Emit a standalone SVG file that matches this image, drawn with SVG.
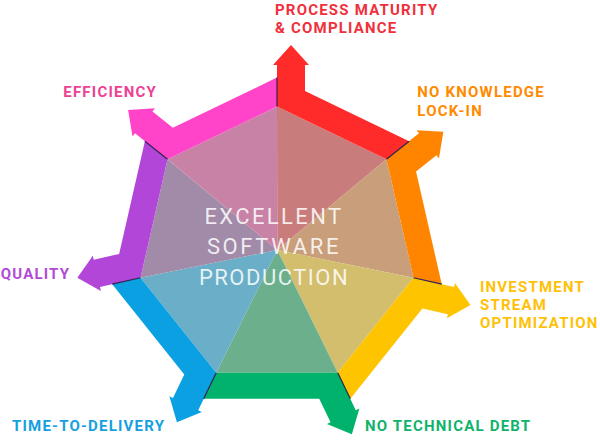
<svg xmlns="http://www.w3.org/2000/svg" width="600" height="443" viewBox="0 0 600 443">
  <defs>
    <style>
      .lbl { font-family: Roboto, "Liberation Sans", sans-serif; font-weight: 700; font-size: 15px; letter-spacing: 1.2px; }
      .center { font-family: Roboto, "Liberation Sans", sans-serif; font-weight: 400; font-size: 22px; letter-spacing: 1.5px; fill: #ffffff; fill-opacity: 0.85; text-anchor: middle; }
      .sep { stroke: #2d2350; stroke-width: 1.2; }
    </style>
    <path id="band" d="M277,106.6 L386.45,159.31 L409.12,141.23 L305,91.08 L305,65 L309,65 L291,45 L273,65 L277,65 Z"/>
  </defs>
  <rect width="600" height="443" fill="#ffffff"/>

  <g id="inner">
    <polygon points="277.3,250 277,106.6 386.45,159.31" fill="#c97c7c"/>
    <polygon points="277.3,250 386.45,159.31 413.49,277.75" fill="#c99e7a"/>
    <polygon points="277.3,250 413.49,277.75 337.75,372.74" fill="#d3be6d"/>
    <polygon points="277.3,250 337.75,372.74 216.25,372.74" fill="#6caf8d"/>
    <polygon points="277.3,250 216.25,372.74 140.51,277.75" fill="#6aaec8"/>
    <polygon points="277.3,250 140.51,277.75 167.55,159.31" fill="#a28ba9"/>
    <polygon points="277.3,250 167.55,159.31 277,106.6" fill="#c882a6"/>
  </g>

  <g id="node-process-maturity">
    <use href="#band" fill="#ff2b2b"/>
    <text class="lbl" fill="#f0303c"><tspan x="275" y="15">PROCESS MATURITY</tspan><tspan x="275" y="33.3">&amp; COMPLIANCE</tspan></text>
  </g>
  <g id="node-no-knowledge-lock-in">
    <use href="#band" fill="#ff8500" transform="rotate(51.4286 277 246.6)"/>
    <text class="lbl" fill="#ff8a00"><tspan x="417.3" y="97.3">NO KNOWLEDGE</tspan><tspan x="417.3" y="115.7">LOCK-IN</tspan></text>
  </g>
  <g id="node-investment-stream">
    <use href="#band" fill="#ffc400" transform="rotate(102.8571 277 246.6)"/>
    <text class="lbl" fill="#ffc107"><tspan x="480" y="291.7">INVESTMENT</tspan><tspan x="480" y="310">STREAM</tspan><tspan x="480" y="328.3">OPTIMIZATION</tspan></text>
  </g>
  <g id="node-no-technical-debt">
    <use href="#band" fill="#00b26b" transform="rotate(154.2857 277 246.6)"/>
    <text class="lbl" fill="#10b36c" x="365" y="431.3">NO TECHNICAL DEBT</text>
  </g>
  <g id="node-time-to-delivery">
    <use href="#band" fill="#0aa0e2" transform="rotate(205.7143 277 246.6)"/>
    <text class="lbl" fill="#15a0e0" x="12" y="431.3">TIME-TO-DELIVERY</text>
  </g>
  <g id="node-quality">
    <use href="#band" fill="#b246d8" transform="rotate(257.1429 277 246.6)"/>
    <text class="lbl" fill="#b34ad6" x="0.7" y="279.3">QUALITY</text>
  </g>
  <g id="node-efficiency">
    <use href="#band" fill="#ff44c9" transform="rotate(308.5714 277 246.6)"/>
    <text class="lbl" fill="#ec4195" x="63.3" y="97.3">EFFICIENCY</text>
  </g>

  <g id="connectors">
    <line class="sep" x1="277" y1="106.6" x2="277" y2="77.6"/>
    <line class="sep" x1="277" y1="106.6" x2="277" y2="77.6" transform="rotate(51.4286 277 246.6)"/>
    <line class="sep" x1="277" y1="106.6" x2="277" y2="77.6" transform="rotate(102.8571 277 246.6)"/>
    <line class="sep" x1="277" y1="106.6" x2="277" y2="77.6" transform="rotate(154.2857 277 246.6)"/>
    <line class="sep" x1="277" y1="106.6" x2="277" y2="77.6" transform="rotate(205.7143 277 246.6)"/>
    <line class="sep" x1="277" y1="106.6" x2="277" y2="77.6" transform="rotate(257.1429 277 246.6)"/>
    <line class="sep" x1="277" y1="106.6" x2="277" y2="77.6" transform="rotate(308.5714 277 246.6)"/>
  </g>

  <g id="node-center">
    <text class="center"><tspan x="274" y="224.3" letter-spacing="2.4">EXCELLENT</tspan><tspan x="274" y="254.3" letter-spacing="2.6">SOFTWARE</tspan><tspan x="274" y="285">PRODUCTION</tspan></text>
  </g>
</svg>
